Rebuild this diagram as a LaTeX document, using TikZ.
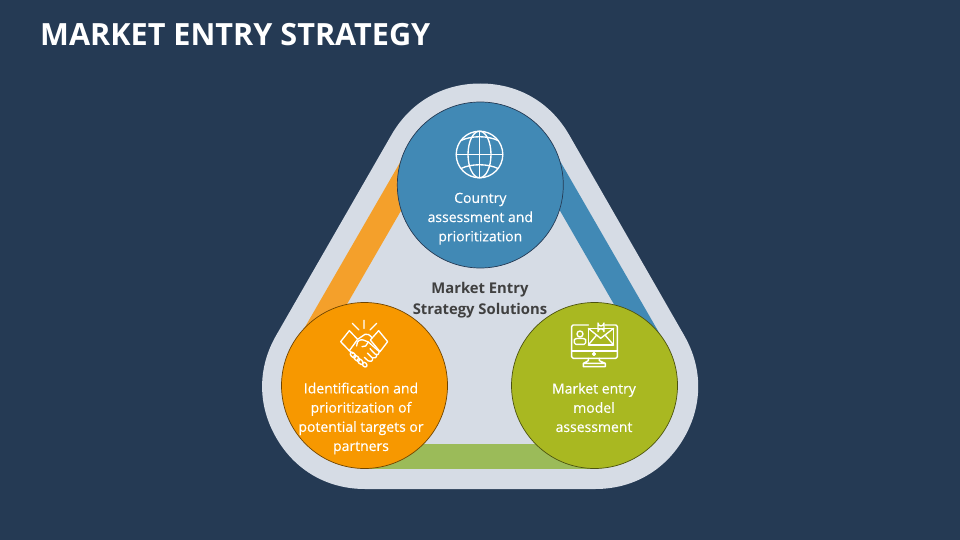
\documentclass[tikz,border=0pt]{standalone}
\usepackage{fontspec}
\setmainfont{Open Sans}
\newfontfamily\semifont[FakeBold=0.3]{Open Sans}
\definecolor{bgc}{HTML}{253A54}
\definecolor{plate}{HTML}{D6DCE5}
\definecolor{orangeband}{HTML}{F4A02B}
\definecolor{blueband}{HTML}{4189B5}
\definecolor{greenband}{HTML}{9BBB59}
\definecolor{orangedisc}{HTML}{F79800}
\definecolor{greendisc}{HTML}{A9B821}
\definecolor{labelgrey}{HTML}{404040}
\tikzset{
 disc/.style={circle,minimum size=166pt,inner sep=0pt,draw=#1,line width=0.7pt},
 disctext/.style={text=white,font=\semifont\fontsize{14}{19.2}\selectfont,align=center,inner sep=0pt},
 icon/.style={draw=white,line width=1.35pt,line join=round,line cap=round},
}
\begin{document}
\begin{tikzpicture}[x=1pt,y=-1pt]
\path[use as bounding box,fill=bgc] (0,0) rectangle (960,540);
\node[anchor=west,text=white,inner sep=0pt,font=\fontsize{30.6}{36}\selectfont\bfseries] (title) at (40,34.5) {MARKET ENTRY STRATEGY};
% plate
\draw[plate,fill=plate,line width=205pt,line join=round] (480.3,186) -- (365,386.5) -- (595.3,386.5) -- cycle;
% bands
\fill[orangeband] (410.4,144.5) -- (294.9,344.5) -- (316.5,357) -- (432,157) -- cycle;
\fill[blueband] (550.5,144.5) -- (665,343) -- (643.5,355.5) -- (529,157) -- cycle;
\fill[greenband] (364.5,444) rectangle (594.5,469);
% discs
\node[disc=bgc,fill=blueband] (top) at (480.3,185) {};
\node[disc=black!55!orangedisc,fill=orangedisc] (left) at (364.5,385.5) {};
\node[disc=black!55!greendisc,fill=greendisc] (right) at (594.5,385.5) {};
% texts
\node[disctext] (toptext) at (480.3,218.7) {Country\\assessment and\\prioritization};
\node[disctext] (lefttext) at (361,418.5) {Identification and\\prioritization of\\potential targets or\\partners};
\node[disctext] (righttext) at (594,407.5) {Market entry\\model\\assessment};
\node[text=labelgrey,font=\fontsize{14.8}{21}\selectfont\bfseries,align=center,inner sep=0pt] (centre) at (480,300) {Market Entry\\Strategy Solutions};
% globe
\begin{scope}[icon,shift={(479.5,154.5)}]
\draw (0,0) circle (23.3);
\draw (0,0) ellipse (11.5 and 23.3);
\draw (0,-23.3) -- (0,23.3) (-23.3,0) -- (23.3,0);
\draw (-18.5,-14) .. controls (-8,-19) and (8,-19) .. (18.5,-14);
\draw (-18.5,14) .. controls (-8,9) and (8,9) .. (18.5,14);
\end{scope}
% handshake (coordinates follow a 3x grid)
\begin{scope}[icon,shift={(260,290)},x=0.3333pt,y=-0.3333pt]
\draw (312,91) -- (312,115) (277,100) -- (297,120) (350,100) -- (330,120);
\draw (268,122) -- (242,155) -- (268,182) -- (293,148) -- cycle;
\draw (356,122) -- (383,155) -- (360,185) -- (331,150) -- cycle;
\draw (293,148) -- (315,133) .. controls (322,130) and (328,134) .. (336,143);
\draw (290,168) .. controls (290,150) and (302,148) .. (310,150) -- (325,156) -- (317,168) -- (306,170);
\draw (325,156) -- (358,185) .. controls (360,192) and (352,197) .. (345,192) (345,192) -- (330,176);
\draw (350,193) .. controls (352,203) and (343,207) .. (336,203) -- (322,189);
\draw (338,204) .. controls (339,214) and (331,217) .. (325,213) -- (313,202);
\draw (268,182) -- (278,190);
\draw[rotate around={45:(279,195)}] (279,195) ellipse (6 and 10);
\draw[rotate around={45:(290,205)}] (290,205) ellipse (6 and 11);
\draw[rotate around={45:(301,215)}] (301,215) ellipse (6 and 11);
\draw[rotate around={45:(314,224)}] (314,224) ellipse (6 and 8);
\end{scope}
% monitor (coordinates follow a 3x grid)
\begin{scope}[icon,shift={(480,290)},x=0.3333pt,y=-0.3333pt]
\draw[rounded corners=1.5pt] (325,105) -- (275,105) -- (275,205) -- (412,205) -- (412,105) -- (375,105);
\draw (275,183) -- (412,183);
\draw (342,192) circle (4);
\draw (325,205) -- (325,212) -- (310,220) -- (310,230) -- (376,230) -- (376,220) -- (358,212) -- (358,205) (310,220) -- (376,220);
\draw (325,115) rectangle (401,165);
\draw (325,115) -- (362,145) -- (401,115);
\draw (325,165) -- (350,135) (401,165) -- (375,135);
\draw (354,122) -- (354,99) arc[start angle=180,end angle=0,radius=9] -- (372,125) arc[start angle=0,end angle=-180,radius=9] -- (354,112);
\draw (300,132) circle (9);
\draw[rounded corners=1.5pt] (283,163) -- (283,153) .. controls (283,147) and (291,145) .. (300,145) .. controls (309,145) and (317,147) .. (317,153) -- (317,163) -- cycle;
\end{scope}
\end{tikzpicture}
\end{document}
